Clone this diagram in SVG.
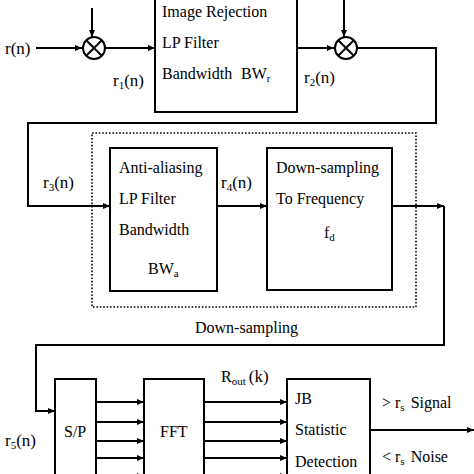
<svg xmlns="http://www.w3.org/2000/svg" width="474" height="474" viewBox="0 0 474 474" font-family="Liberation Serif, DejaVu Serif, serif">
<defs>
<marker id="ah" markerUnits="userSpaceOnUse" markerWidth="8" markerHeight="7" refX="7" refY="3.5" orient="auto">
<path d="M0,0.5 L7,3.5 L0,6.5 z" fill="#000"/>
</marker>
<style>
text{font-family:'Liberation Serif','DejaVu Serif',serif;font-size:16px;fill:#000}
.lbl{font-size:17px}
.box{fill:#fff;stroke:#000;stroke-width:2}
.ln{fill:none;stroke:#000;stroke-width:2}
.ar{fill:none;stroke:#000;stroke-width:2;marker-end:url(#ah)}
.dot{fill:none;stroke:#000;stroke-width:1.6;stroke-dasharray:1.6,1.8}
.sub{font-size:11px}
</style>
</defs>
<rect width="474" height="474" fill="#fff"/>

<g id="connectors">
<line class="ar" x1="36" y1="48" x2="82" y2="48"/>
<line class="ar" x1="92" y1="8" x2="92" y2="37"/>
<line class="ar" x1="106" y1="48" x2="155" y2="48"/>
<line class="ar" x1="297" y1="48" x2="334" y2="48"/>
<line class="ar" x1="344" y1="0" x2="344" y2="37"/>
<polyline class="ar" points="357,48 436,48 436,123 28,123 28,206 110,206"/>
<line class="ar" x1="217" y1="206" x2="267" y2="206"/>
<line class="ar" x1="392" y1="206" x2="444" y2="206"/>
<polyline class="ar" points="444,206 444,345 36,345 36,411 55,411"/>
<line class="ar" x1="96" y1="402" x2="144" y2="402"/>
<line class="ar" x1="96" y1="422" x2="144" y2="422"/>
<line class="ar" x1="96" y1="441" x2="144" y2="441"/>
<line class="ar" x1="96" y1="458" x2="144" y2="458"/>
<line class="ar" x1="96" y1="476" x2="144" y2="476"/>
<line class="ar" x1="204" y1="402" x2="287" y2="402"/>
<line class="ar" x1="204" y1="422" x2="287" y2="422"/>
<line class="ar" x1="204" y1="441" x2="287" y2="441"/>
<line class="ar" x1="204" y1="458" x2="287" y2="458"/>
<line class="ar" x1="204" y1="476" x2="287" y2="476"/>
<line class="ar" x1="370" y1="430" x2="474" y2="430"/>
</g>

<g id="mixer1">
<circle class="box" cx="94" cy="48" r="11"/>
<path class="ln" d="M86.2,40.2 L101.8,55.8 M101.8,40.2 L86.2,55.8"/>
</g>
<g id="mixer2">
<circle class="box" cx="346" cy="48" r="11"/>
<path class="ln" d="M338.2,40.2 L353.8,55.8 M353.8,40.2 L338.2,55.8"/>
</g>

<g id="image-rejection">
<rect class="box" x="155" y="-5" width="142" height="117"/>
<text x="162" y="17">Image Rejection</text>
<text x="162" y="48">LP Filter</text>
<text x="162" y="79">Bandwidth</text>
<text x="241" y="79">BW<tspan class="sub" dy="3">r</tspan></text>
</g>

<g id="down-sampling-group">
<rect class="dot" x="92" y="133" width="324" height="174"/>
<text x="195" y="333">Down-sampling</text>
</g>

<g id="anti-aliasing">
<rect class="box" x="110" y="148" width="107" height="143"/>
<text x="119" y="173">Anti-aliasing</text>
<text x="119" y="204">LP Filter</text>
<text x="119" y="235">Bandwidth</text>
<text x="148" y="274">BW<tspan class="sub" dy="3">a</tspan></text>
</g>

<g id="down-sampler">
<rect class="box" x="267" y="148" width="125" height="142"/>
<text x="276" y="173">Down-sampling</text>
<text x="276" y="204">To Frequency</text>
<text x="324" y="238">f<tspan class="sub" dy="3">d</tspan></text>
</g>

<g id="sp">
<rect class="box" x="55" y="379" width="41" height="100"/>
<text x="64" y="437">S/P</text>
</g>
<g id="fft">
<rect class="box" x="144" y="379" width="60" height="100"/>
<text x="160" y="437">FFT</text>
</g>
<g id="jb">
<rect class="box" x="287" y="379" width="83" height="100"/>
<text x="295" y="404">JB</text>
<text x="295" y="435">Statistic</text>
<text x="295" y="467">Detection</text>
</g>

<g id="labels">
<text class="lbl" x="5" y="54">r(n)</text>
<text class="lbl" x="113" y="86">r<tspan class="sub" dy="3">1</tspan><tspan dy="-3">(n)</tspan></text>
<text class="lbl" x="304" y="83">r<tspan class="sub" dy="3">2</tspan><tspan dy="-3">(n)</tspan></text>
<text class="lbl" x="43" y="188">r<tspan class="sub" dy="3">3</tspan><tspan dy="-3">(n)</tspan></text>
<text class="lbl" x="221" y="188">r<tspan class="sub" dy="3">4</tspan><tspan dy="-3">(n)</tspan></text>
<text class="lbl" x="5" y="446">r<tspan class="sub" dy="3">5</tspan><tspan dy="-3">(n)</tspan></text>
<text x="221" y="382">R<tspan class="sub" dy="3">out</tspan><tspan class="lbl" dx="3" dy="-3">(k)</tspan></text>
<text x="382" y="408">&gt; r<tspan class="sub" dy="3">s</tspan><tspan dx="6" dy="-3">Signal</tspan></text>
<text x="382" y="462">&lt; r<tspan class="sub" dy="3">s</tspan><tspan dx="6" dy="-3">Noise</tspan></text>
</g>
</svg>
